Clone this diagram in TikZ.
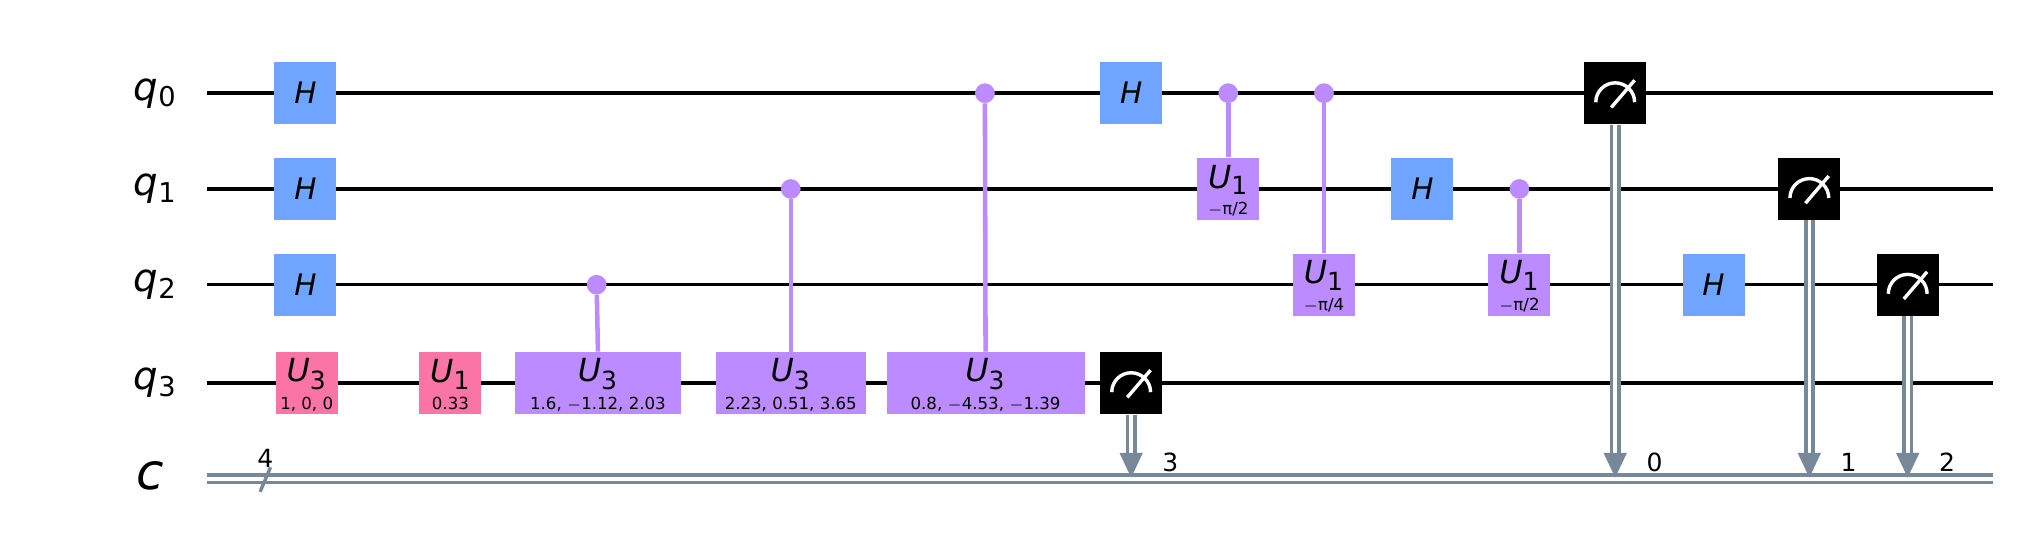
\documentclass[tikz,border=0pt]{standalone}
\usepackage{fontspec}
\setmainfont{DejaVu Sans}
\newfontfamily\obl{DejaVu Sans Oblique}
\usetikzlibrary{arrows.meta}
\definecolor{hcol}{HTML}{6FA4FF}
\definecolor{pcol}{HTML}{FA74A6}
\definecolor{ucol}{HTML}{BB8BFF}
\definecolor{ccol}{HTML}{778899}
\tikzset{
 gate/.style={fill=#1,minimum width=0.96cm,minimum height=0.96cm,inner sep=0pt,font=\fontsize{12}{12}\selectfont},
 wire/.style={line width=1.5pt,black},
 ctrl/.style={ucol,line width=2pt},
 dot/.style={circle,fill=ucol,minimum size=0.3cm,inner sep=0pt},
 meas/.style={fill=black,minimum width=0.96cm,minimum height=0.96cm,inner sep=0pt},
 lab/.style={font=\fontsize{17}{17}\selectfont\obl},
 cwire/.style={ccol,double=white,double distance=1.6pt,line width=1.6pt},
 ut/.style={font=\fontsize{14}{14}\selectfont\obl,inner sep=0pt},
 st/.style={font=\fontsize{7.3}{7.3}\selectfont,inner sep=0pt},
}
\newcommand{\uu}[1]{U\textsubscript{\fontsize{11}{11}\selectfont\normalfont #1}}
\begin{document}
\begin{tikzpicture}[x=0.02cm,y=-0.02cm]
\useasboundingbox (0,0) rectangle (1560,425.8);
% labels
\node[lab] at (120,72) {q\textsubscript{\fontsize{12}{12}\selectfont\normalfont 0}};
\node[lab] at (120,146) {q\textsubscript{\fontsize{12}{12}\selectfont\normalfont 1}};
\node[lab] at (120,220) {q\textsubscript{\fontsize{12}{12}\selectfont\normalfont 2}};
\node[lab] at (120,296) {q\textsubscript{\fontsize{12}{12}\selectfont\normalfont 3}};
\node[font=\fontsize{22}{22}\selectfont\obl] at (116,368) {c};
% wires
\foreach \y/\n in {72/0,146/1,220/2,296/3}{
 \coordinate (wl\n) at (160,\y); \coordinate (wr\n) at (1540,\y);
 \draw[wire] (wl\n) -- (wr\n);}
\coordinate (cl) at (160,370); \coordinate (cr) at (1540,370);
\draw[cwire] (cl) -- (cr);
\coordinate (sa) at (201,380); \coordinate (sb) at (209,361);
\draw[ccol,line width=1.5pt] (sa) -- (sb);
\node[font=\fontsize{11}{11}\selectfont] at (205,354) {4};
% controls
\node[dot] (d1) at (461,220) {};
\node[dot] (d2) at (611,146) {};
\node[dot] (d3) at (761,72) {};
\node[dot] (d4) at (949,72) {};
\node[dot] (d5) at (1023,72) {};
\node[dot] (d6) at (1174,146) {};
% gates
\foreach \x/\y/\n in {236/72/h0,236/146/h1,236/220/h2,874/72/h3,1099/146/h4,1324/220/h5}
 \node[gate=hcol,font=\fontsize{13}{13}\selectfont\obl] (\n) at (\x,\y) {H};
\foreach \x/\y/\w/\c/\n/\s/\t in {
 237/296/0.96/pcol/g1/3/{1, 0, 0},
 348/296/0.96/pcol/g2/1/{0.33},
 462/296/2.56/ucol/g3/3/{1.6, $-$1.12, 2.03},
 611/296/2.32/ucol/g4/3/{2.23, 0.51, 3.65},
 761.5/296/3.06/ucol/g5/3/{0.8, $-$4.53, $-$1.39},
 949/146/0.96/ucol/g6/1/{$-$π/2},
 1023/220/0.96/ucol/g7/1/{$-$π/4},
 1174/220/0.96/ucol/g8/1/{$-$π/2}}{
 \node[gate=\c,minimum width=\w cm] (\n) at (\x,\y) {};
 \node[ut] at (\x,\y-7) {\uu{\s}};
 \node[st] at (\x,\y+16) {\t};
}
\foreach \a/\b in {d1/g3,d2/g4,d3/g5,d4/g6,d5/g7,d6/g8}
 \draw[ctrl] (\a) -- (\b.north);
\foreach \a in {d1,d2,d3,d4,d5,d6} \node[dot] at (\a) {};
% measures
\foreach \x/\y/\n/\b in {874/296/m3/3,1248/72/m0/0,1398/146/m1/1,1474/220/m2/2}{
 \node[meas] (\n) at (\x,\y) {};
 \coordinate (\n c) at (\x,369);
 \draw[cwire] (\n.south) -- (\x,352);
 \fill[ccol] (\x-9,350) -- (\x+9,350) -- (\n c) -- cycle;
 \draw[white,line width=1.5pt] (\x-15,\y+7) arc (180:360:15);
 \draw[white,line width=1.5pt] (\x-3,\y+11) -- (\x+15,\y-10);
 \node[font=\fontsize{11}{11}\selectfont,anchor=west] at (\x+18,357) {\b};
}
\end{tikzpicture}
\end{document}
